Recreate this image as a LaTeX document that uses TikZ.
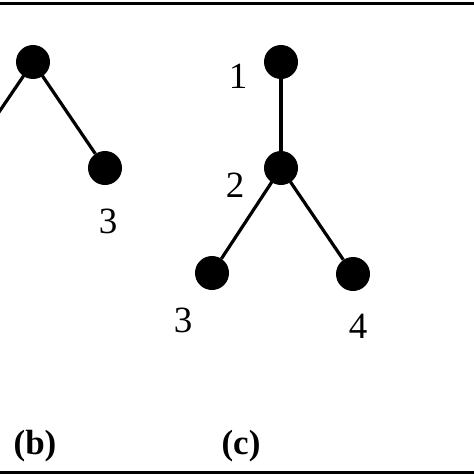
\documentclass[tikz,border=0pt]{standalone}
\usepackage{fontspec}
\setmainfont{Liberation Serif}
\usetikzlibrary{positioning}
\tikzset{
  vert/.style={circle,fill=black,inner sep=0pt,minimum size=34pt},
  lab/.style={font=\fontsize{37}{40}\selectfont},
  captext/.style={font=\fontsize{35}{40}\selectfont\bfseries},
  edge/.style={line width=3.2pt}
}
\begin{document}
\begin{tikzpicture}[x=1pt,y=-1pt]
    \useasboundingbox (0,0) rectangle (474,474);
    \clip (0,0) rectangle (474,474);
    \draw[line width=3pt] (0,3.5)--(474,3.5);
    \draw[line width=3.5pt] (0,472.5)--(474,472.5);
    % tree (b)
    \node[vert] (b1) at (33,62) {};
    \node[vert] (b2) at (-39,168) {};
    \node[vert] (b3) at (105,168) {};
    \draw[edge] (b1.center)--(b2);
    \draw[edge] (b1.center)--(b3);
    \node[lab] (lb3) at (108,221) {3};
    % tree (c)
    \node[vert] (c1) at (281,62) {};
    \node[vert] (c2) at (281,168) {};
    \node[vert] (c3) at (212,273) {};
    \node[vert] (c4) at (353,274) {};
    \draw[edge] (c1)--(c2);
    \draw[edge] (c2.center)--(c3);
    \draw[edge] (c2.center)--(c4);
    \node[lab] (lc1) at (238,76) {1};
    \node[lab] (lc2) at (235,185) {2};
    \node[lab] (lc3) at (183,320) {3};
    \node[lab] (lc4) at (358,326) {4};
    % captions
    \node[captext] (capb) at (35,446) {(b)};
    \node[captext] (capc) at (241,446) {(c)};
  \end{tikzpicture}
\end{document}
